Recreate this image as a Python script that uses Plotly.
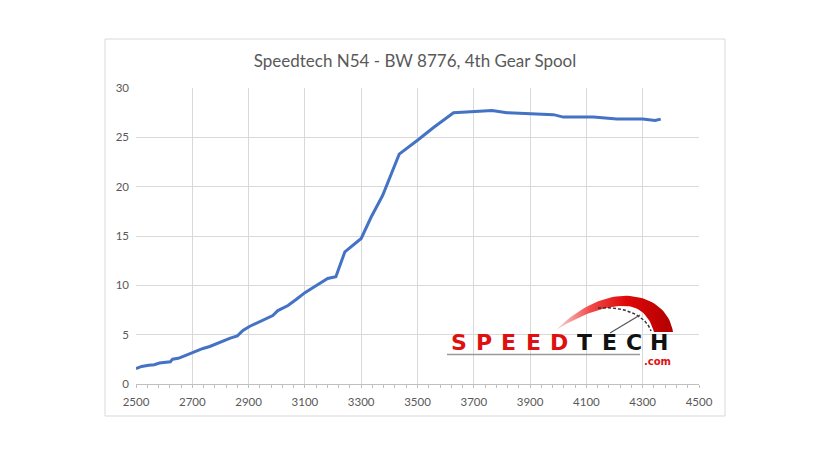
import plotly.graph_objects as go

# ---- data ----
rpm = [2500, 2520, 2545, 2565, 2583, 2600, 2622, 2630, 2650, 2668, 2690, 2710, 2738, 2762,
       2790, 2815, 2835, 2860, 2880, 2903, 2933, 2962, 2986, 3004, 3040, 3070, 3100, 3128,
       3157, 3181, 3210, 3242, 3300, 3335, 3376, 3435, 3500, 3557, 3628, 3700, 3765, 3817,
       3900, 3983, 4018, 4125, 4208, 4300, 4344, 4364]
boost = [1.55, 1.78, 1.89, 1.95, 2.12, 2.2, 2.25, 2.52, 2.6, 2.8, 3.06, 3.3, 3.6, 3.8,
         4.14, 4.48, 4.65, 4.88, 5.42, 5.83, 6.23, 6.6, 6.94, 7.44, 7.95, 8.59, 9.26, 9.76,
         10.27, 10.7, 10.88, 13.4, 14.75, 16.9, 19.1, 23.3, 24.7, 26.0, 27.5, 27.65, 27.72, 27.5,
         27.4, 27.3, 27.05, 27.05, 26.85, 26.85, 26.7, 26.85]
title_text = "Speedtech N54 - BW 8776, 4th Gear Spool"
x_range = [2500, 4500]
y_range = [0, 30]

OFF = 8  # page body margin offset
W, H = 832 - OFF, 468 - OFF
# plot area in screenshot pixels
SL, SR, ST, SB = 136, 699, 88, 384
L, R, T, B = SL - OFF, SR - OFF, ST - OFF, SB - OFF

GREY = "#595959"
FONT = "Lato"

def px(x):  # screenshot pixel -> paper x
    return (x - SL) / (SR - SL)

def py(y):  # screenshot pixel -> paper y
    return (SB - y) / (SB - ST)

def dx(x):  # screenshot pixel -> data x
    return x_range[0] + (x - SL) * (x_range[1] - x_range[0]) / (SR - SL)

def dy(y):
    return y_range[0] + (SB - y) * (y_range[1] - y_range[0]) / (SB - ST)

fig = go.Figure()

# ---- logo (decoration) ----
def bez(p0, p1, p2, p3, n=20):
    pts = []
    for i in range(n + 1):
        t = i / n
        a = (1 - t) ** 3; b = 3 * (1 - t) ** 2 * t; c = 3 * (1 - t) * t ** 2; d = t ** 3
        pts.append((a * p0[0] + b * p1[0] + c * p2[0] + d * p3[0],
                    a * p0[1] + b * p1[1] + c * p2[1] + d * p3[1]))
    return pts

outer = bez((556, 330), (580, 306), (608, 294), (630, 296)) + \
        bez((630, 296), (654, 298), (670, 312), (673, 332))[1:]
inner = bez((654, 332), (650, 318), (642, 307), (626, 306)) + \
        bez((626, 306), (606, 305), (580, 315), (556, 330))[1:]
arc = outer + inner
fig.add_trace(go.Scatter(
    x=[dx(p[0]) for p in arc], y=[dy(p[1]) for p in arc],
    mode="lines", line=dict(width=0, color="rgba(0,0,0,0)"),
    fill="toself",
    fillgradient=dict(type="horizontal",
                      colorscale=[[0, "#FBD6D6"], [0.3, "#F04848"], [0.6, "#E00808"], [1, "#B00000"]]),
    hoverinfo="skip", showlegend=False))
dash_pts = bez((598, 308), (622, 306), (645, 314), (651, 331))
fig.add_trace(go.Scatter(
    x=[dx(p[0]) for p in dash_pts], y=[dy(p[1]) for p in dash_pts],
    mode="lines", line=dict(width=1.5, color="#333333", dash="3px,2px"),
    hoverinfo="skip", showlegend=False))
fig.add_trace(go.Scatter(
    x=[dx(610), dx(640)], y=[dy(333), dy(315)],
    mode="lines", line=dict(width=1.2, color="#555555"),
    hoverinfo="skip", showlegend=False))

# ---- main data line ----
fig.add_trace(go.Scatter(
    x=rpm, y=boost, mode="lines",
    line=dict(color="#4472C4", width=3),
    showlegend=False))

shapes = [
    dict(type="rect", xref="paper", yref="paper",
         x0=px(105), x1=px(725), y0=py(416), y1=py(39),
         line=dict(color="#D9D9D9", width=1), fillcolor="rgba(0,0,0,0)", layer="below"),
    dict(type="line", xref="paper", yref="paper",
         x0=px(447), x1=px(640), y0=py(354.5), y1=py(354.5),
         line=dict(color="#9A9A9A", width=1.5)),
]

annotations = []
letters = "SPEEDTECH"
for i, ch in enumerate(letters):
    cx = 446 + 12.5 + 25.1 * i
    annotations.append(dict(
        x=px(cx), y=py(342.5), xref="paper", yref="paper", text="<b>%s</b>" % ch,
        showarrow=False, xanchor="center", yanchor="middle", height=17,
        font=dict(family="DejaVu Sans", size=22,
                  color="#E01010" if i < 5 else "#111111")))
annotations.append(dict(
    x=px(673), y=py(361), xref="paper", yref="paper", text="<b>.com</b>",
    showarrow=False, xanchor="right", yanchor="middle", height=9,
    font=dict(family="DejaVu Sans", size=10, color="#E01010")))

fig.update_layout(
    width=W, height=H,
    margin=dict(l=L, r=W - R, t=T, b=H - B, pad=0),
    paper_bgcolor="white", plot_bgcolor="white",
    title=dict(text=title_text, x=(415 - OFF) / W, xanchor="center",
               y=1 - (61 - OFF) / H, yanchor="middle",
               font=dict(family=FONT, size=17, color=GREY)),
    xaxis=dict(range=x_range, tick0=2500, dtick=200, showgrid=True,
               gridcolor="#D9D9D9", gridwidth=1, showline=True, linecolor="#BFBFBF",
               linewidth=1, ticks="outside", ticklen=3, tickcolor="#BFBFBF",
               minor=dict(dtick=40, tick0=2500, ticks="outside", ticklen=3,
                          tickcolor="#BFBFBF", showgrid=False),
               ticklabelstandoff=4,
               zeroline=False, tickfont=dict(family=FONT, size=11.5, color=GREY),
               fixedrange=True),
    yaxis=dict(range=y_range, dtick=5, tick0=0, showgrid=True, gridcolor="#D9D9D9",
               gridwidth=1, showline=False, zeroline=False, ticks="",
               ticklabelstandoff=6,
               tickfont=dict(family=FONT, size=11.5, color=GREY), fixedrange=True),
    shapes=shapes, annotations=annotations,
)

fig.write_html("out.html")
